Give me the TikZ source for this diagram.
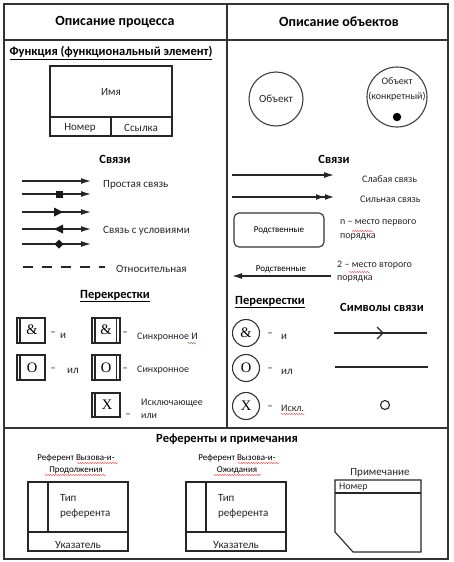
\documentclass[tikz,border=0pt]{standalone}
\usepackage{fontspec}
\setmainfont{Carlito}
\newfontfamily\symfont{Liberation Serif}
\usetikzlibrary{arrows.meta,decorations.pathmorphing}
\begin{document}
\begin{tikzpicture}[x=1pt,y=-1pt,
  frame/.style={draw=black!80,line width=1.4pt},
  thin/.style={draw=black!85,line width=1.1pt},
  ttl/.style={font=\fontsize{14}{16}\selectfont\bfseries,inner sep=0pt},
  hdr/.style={font=\fontsize{12.5}{14}\selectfont\bfseries,inner sep=0pt},
  txt/.style={font=\fontsize{11}{13}\selectfont,inner sep=0pt,text=black!85},
  stxt/.style={font=\fontsize{10}{12}\selectfont,inner sep=0pt,text=black!85},
  sym/.style={font=\symfont\fontsize{14.5}{16}\selectfont,inner sep=0pt},
  tip/.style={-{Latex[length=10pt,width=6pt]}},
  lnk/.style={line width=1.3pt,draw=black!85},
  redsq/.style={draw=red!80,line width=0.4pt,decorate,decoration={snake,amplitude=0.6pt,segment length=2.5pt}},
  greensq/.style={draw=green!60!black,line width=0.4pt,decorate,decoration={snake,amplitude=0.6pt,segment length=2.5pt}}
]
\useasboundingbox (0,0) rectangle (453,562);
\fill[white] (0,0) rectangle (453,562);
% frame
\draw[frame] (4,4) rectangle (448,559);
\draw[frame] (4,40) -- (448,40);
\draw[frame] (227,4) -- (227,428);
\draw[frame] (4,428) -- (448,428);

\node[ttl] (t1) at (115,22) {Описание процесса};
\node[ttl] (t2) at (339,22) {Описание объектов};

% function
\node[hdr] (fh) at (111,53) {\underline{Функция (функциональный элемент)}};
\draw[thin] (50,66) rectangle (172,136);
\draw[thin] (50,117) -- (172,117);
\draw[thin] (111,117) -- (111,136);
\node[txt] (fn) at (111,92) {Имя};
\node[txt] (fnum) at (80,128) {Номер};
\node[txt] (fref) at (141,128) {Ссылка};

% objects
\node[draw=black!75,line width=1.1pt,circle,minimum size=54pt,inner sep=0pt,txt] (o1) at (276,99) {Объект};
\node[draw=black!75,line width=1.1pt,circle,minimum size=60pt,inner sep=0pt] (o2) at (397,97) {};
\node[stxt] (o2a) at (397,81) {Объект};
\node[stxt] (o2b) at (397,97) {(конкретный)};
\fill (397,117) circle (4.2pt);

% links left
\node[hdr] (sv1) at (115,159) {Связи};
\coordinate (a1s) at (22,181); \coordinate (a1e) at (91,181);
\coordinate (a2s) at (22,194); \coordinate (a2e) at (91,194);
\coordinate (a3s) at (22,212); \coordinate (a3e) at (91,212);
\coordinate (a4s) at (22,229); \coordinate (a4e) at (91,229);
\coordinate (a5s) at (22,244); \coordinate (a5e) at (91,244);
\draw[lnk,tip] (a1s) -- (a1e);
\draw[lnk,tip] (a2s) -- (a2e);
\fill[black!90] (55.5,190.5) rectangle (62.5,197.5);
\draw[lnk,tip] (a3s) -- (a3e);
\fill[black!90] (54,207.5) -- (63,212) -- (54,216.5) -- cycle;
\draw[lnk,tip] (a4s) -- (a4e);
\fill[black!90] (63,224.5) -- (54,229) -- (63,233.5) -- cycle;
\draw[lnk,tip] (a5s) -- (a5e);
\fill[black!90] (59,239.5) -- (63.5,244) -- (59,248.5) -- (54.5,244) -- cycle;
\node[txt,anchor=west] (l1) at (103,185) {Простая связь};
\node[txt,anchor=west] (l2) at (103,231) {Связь с условиями};
\coordinate (d1) at (23,267); \coordinate (d2) at (105,267);
\draw[lnk,dash pattern=on 10pt off 9pt] (d1) -- (d2);
\node[txt,anchor=west] (l3) at (116,269) {Относительная};

% links right
\node[hdr] (sv2) at (334,159) {Связи};
\coordinate (b1s) at (232,175); \coordinate (b1e) at (334,175);
\coordinate (b2s) at (232,197); \coordinate (b2e) at (334,197);
\draw[lnk,tip] (b1s) -- (b1e);
\draw[lnk,-{Latex[length=9pt,width=6pt]Latex[length=9pt,width=6pt]}] (b2s) -- (b2e);
\node[stxt,anchor=west] (r1) at (362,179) {Слабая связь};
\node[stxt,anchor=west] (r2) at (360,199) {Сильная связь};
\node[draw=black!80,line width=1.1pt,rounded corners=5pt,minimum width=90pt,minimum height=34pt,font=\fontsize{9}{11}\selectfont] (rb) at (279,230) {Родственные};
\node[stxt,anchor=west] (r3) at (340,223) {n – место первого};
\node[stxt,anchor=west] (r4) at (340,237) {порядка};
\coordinate (b3s) at (331,276); \coordinate (b3e) at (232,276);
\draw[lnk,tip] (b3s) -- (b3e);
\node[font=\fontsize{9}{11}\selectfont,inner sep=0pt] (rr) at (281,269) {Родственные};
\node[stxt,anchor=west] (r5) at (337,265) {2 – место второго};
\node[stxt,anchor=west] (r6) at (337,279) {порядка};
\draw[redsq] (352,231) -- (373,231);
\draw[redsq] (349,272) -- (370,272);

% junctions left
\node[hdr] (pk1) at (115,296) {\underline{Перекрестки}};
\draw[thin] (17,318) rectangle (45,343); \draw[thin] (20,318) -- (20,343);
\node[sym] (j1) at (32,330) {\&};
\draw[thin] (17,355) rectangle (45,380); \draw[thin] (20,355) -- (20,380);
\node[sym] (j2) at (32,368) {O};
\node[txt] (m1) at (53,334) {–};
\node[txt] (m2) at (53,370) {–};
\node[txt] (j1t) at (63,336) {и};
\node[txt] (j2t) at (73,371) {ил};
\draw[thin] (92,318) rectangle (120,343); \draw[thin] (95,318) -- (95,343); \draw[thin] (116.5,318) -- (116.5,343);
\node[sym] (j3) at (106,330) {\&};
\draw[thin] (92,355) rectangle (120,380); \draw[thin] (95,355) -- (95,380); \draw[thin] (116.5,355) -- (116.5,380);
\node[sym] (j4) at (106,368) {O};
\draw[thin] (92,393) rectangle (120,417); \draw[thin] (95,393) -- (95,417);
\node[sym] (j5) at (107,405) {X};
\node[txt] (m3) at (125,334) {–};
\node[txt] (m4) at (125,370) {–};
\node[txt] (m5) at (128,416) {–};
\node[stxt,anchor=west] (j3t) at (137,337) {Синхронное И};
\node[stxt,anchor=west] (j4t) at (137,370) {Синхронное};
\node[stxt,anchor=west] (j5t) at (141,403) {Исключающее};
\node[stxt,anchor=west] (j5u) at (141,416) {или};
\draw[greensq] (188,343) -- (196,343);

% junctions right
\node[hdr] (pk2) at (270,302) {\underline{Перекрестки}};
\node[hdr] (sc) at (382,307) {Символы связи};
\node[draw=black!80,line width=1.1pt,circle,minimum size=27pt,inner sep=0pt,sym] (c1) at (246,333) {\&};
\node[draw=black!80,line width=1.1pt,circle,minimum size=27pt,inner sep=0pt,sym] (c2) at (246,368) {O};
\node[draw=black!80,line width=1.1pt,circle,minimum size=27pt,inner sep=0pt,sym] (c3) at (246,406) {X};
\node[txt] (n1) at (270,335) {–};
\node[txt] (n2) at (270,370) {–};
\node[txt] (n3) at (270,408) {–};
\node[txt,anchor=west] (c1t) at (281,337) {и};
\node[txt,anchor=west] (c2t) at (281,372) {ил};
\node[stxt,anchor=west] (c3t) at (281,408) {Искл.};
\draw[redsq] (281,414) -- (305,414);
\coordinate (s1s) at (334,333); \coordinate (s1e) at (427,333);
\draw[lnk] (s1s) -- (s1e);
\draw[lnk] (377,327) -- (383,333) -- (377,339);
\coordinate (s2s) at (335,367); \coordinate (s2e) at (428,367);
\draw[lnk] (s2s) -- (s2e);
\node[draw=black!85,line width=1.1pt,circle,minimum size=9pt,inner sep=0pt] (s3) at (385,405) {};

% bottom
\node[hdr] (rp) at (227,439) {Референты и примечания};
\node[font=\fontsize{9}{11}\selectfont,inner sep=0pt] (rf1a) at (76,458) {Референт Вызова-и-};
\node[font=\fontsize{9}{11}\selectfont,inner sep=0pt] (rf1b) at (76,470) {Продолжения};
\draw[redsq] (77,463) -- (118,463);
\draw[redsq] (45,475) -- (106,475);
\draw[thin] (28,482) rectangle (128,551);
\draw[thin] (28,532) -- (128,532);
\draw[thin] (48,482) -- (48,532);
\node[txt,anchor=west] (ty1) at (60,498) {Тип};
\node[txt,anchor=west] (ty2) at (60,514) {референта};
\node[txt] (uk1) at (78,545) {Указатель};

\node[font=\fontsize{9}{11}\selectfont,inner sep=0pt] (rf2a) at (237,458) {Референт Вызова-и-};
\node[font=\fontsize{9}{11}\selectfont,inner sep=0pt] (rf2b) at (237,470) {Ожидания};
\draw[redsq] (238,463) -- (279,463);
\draw[redsq] (214,475) -- (261,475);
\draw[thin] (186,482) rectangle (286,551);
\draw[thin] (186,532) -- (286,532);
\draw[thin] (206,482) -- (206,532);
\node[txt,anchor=west] (ty3) at (218,498) {Тип};
\node[txt,anchor=west] (ty4) at (218,514) {референта};
\node[txt] (uk2) at (236,545) {Указатель};

\node[txt] (pr) at (380,473) {Примечание};
\draw[thin] (335,480) -- (421,480) -- (421,552) -- (353,552) -- (335,532) -- cycle;
\draw[thin] (335,493) -- (421,493);
\node[stxt,anchor=west] (nm) at (339,487) {Номер};
\end{tikzpicture}
\end{document}
